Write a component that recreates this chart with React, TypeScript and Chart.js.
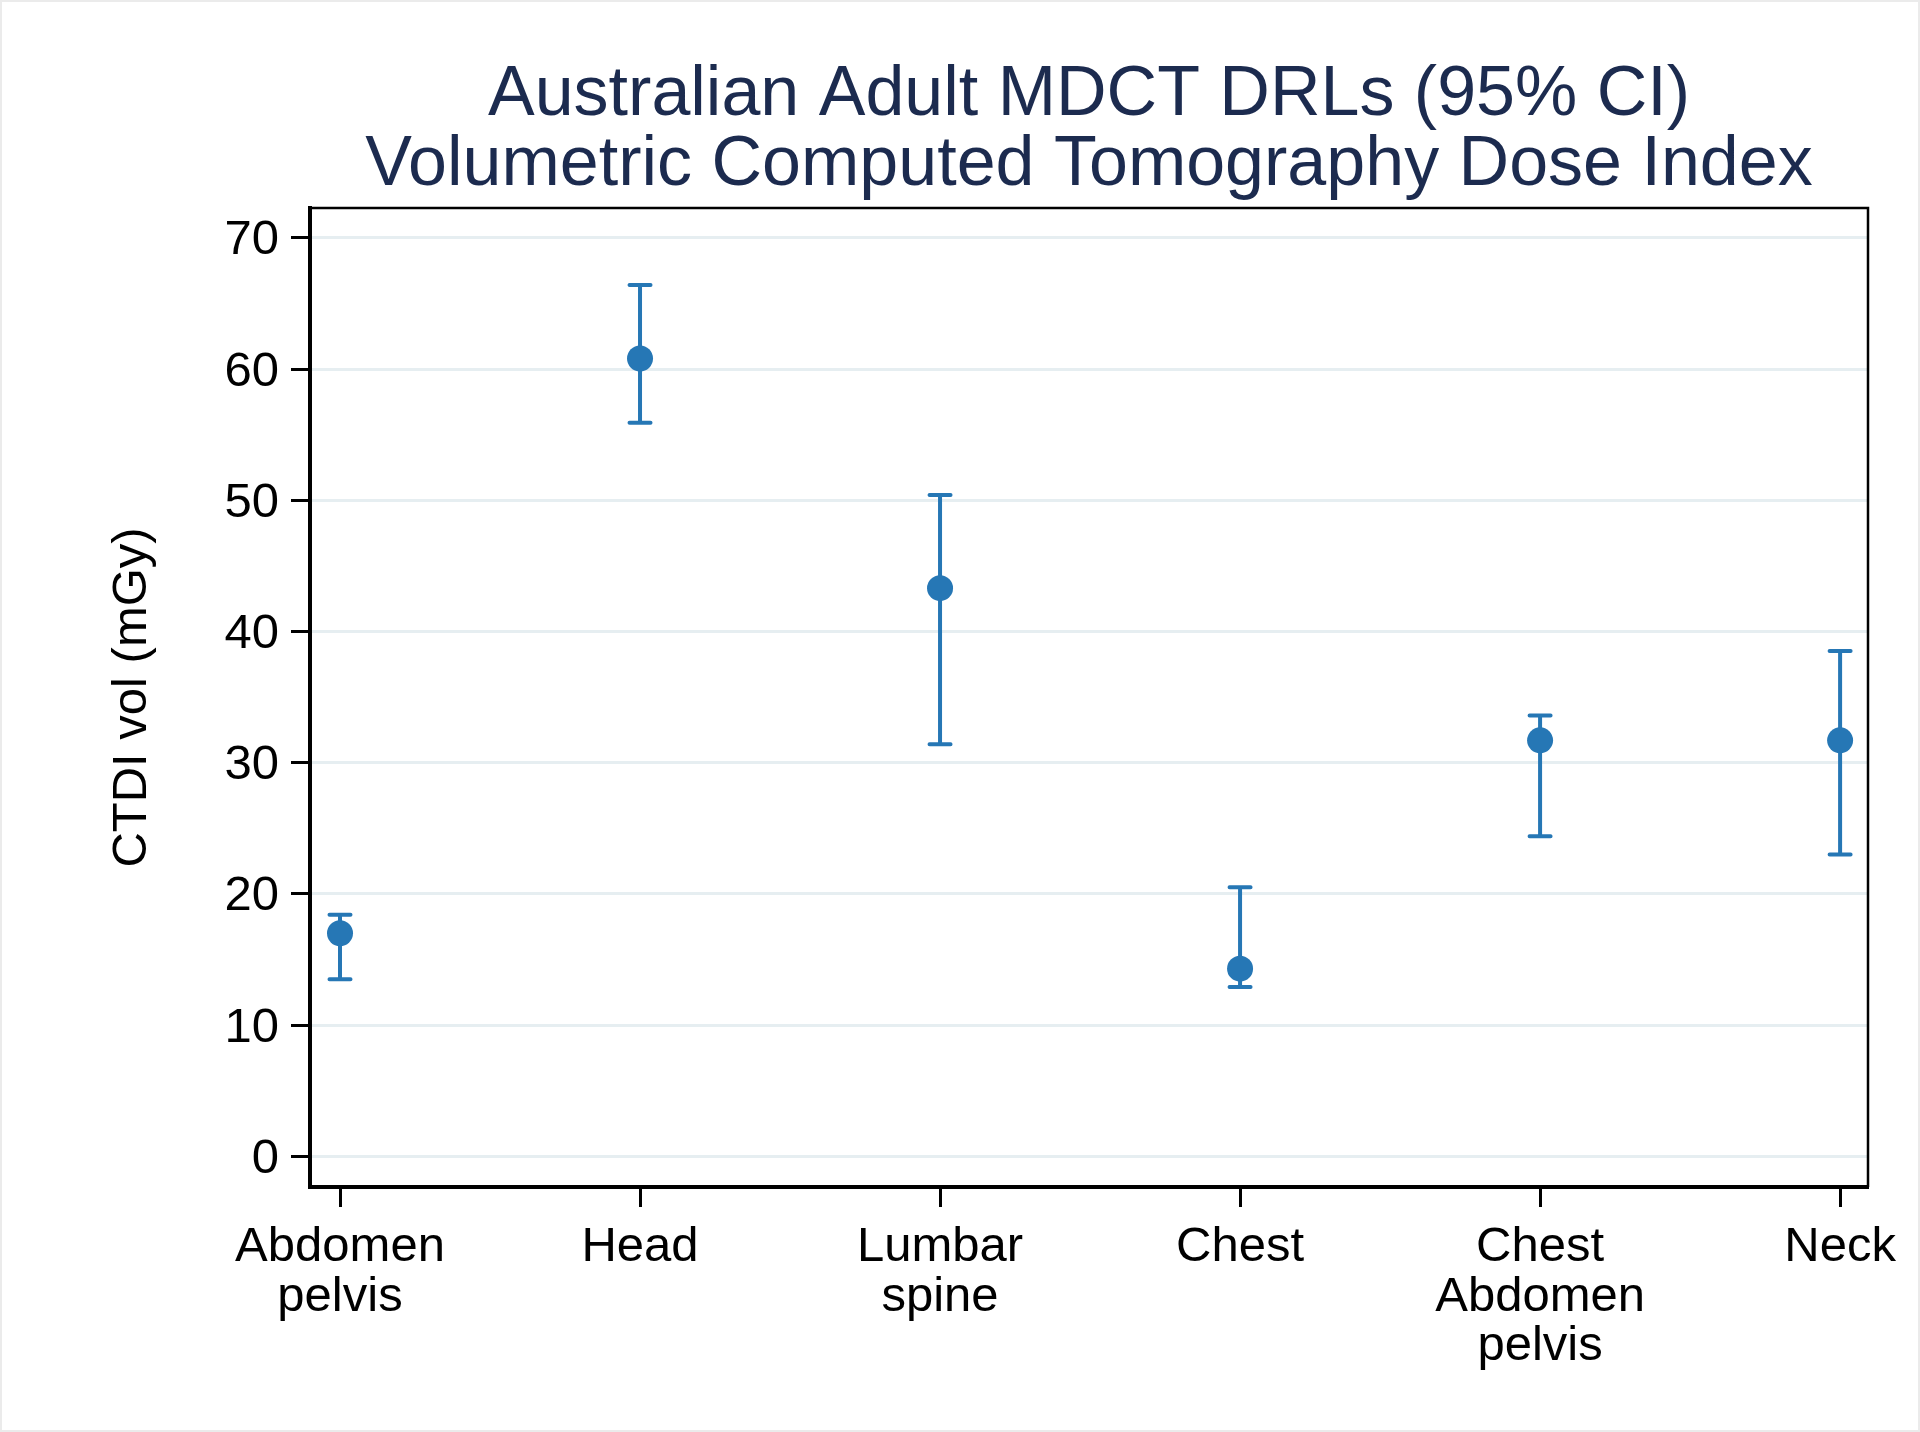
import React, { useEffect, useRef } from "react";
import { Chart, registerables } from "chart.js";

Chart.register(...registerables);

const categories = ["Abdomen pelvis", "Head", "Lumbar spine", "Chest", "Chest Abdomen pelvis", "Neck"];
const categoryLabels = [["Abdomen", "pelvis"], ["Head"], ["Lumbar", "spine"], ["Chest"], ["Chest", "Abdomen", "pelvis"], ["Neck"]];
const meanValues = [17.0, 60.8, 43.3, 14.3, 31.7, 31.7];
const lowerCI = [13.5, 55.9, 31.4, 12.9, 24.4, 23.0];
const upperCI = [18.4, 66.4, 50.4, 20.5, 33.6, 38.5];
const yTickValues = [0, 10, 20, 30, 40, 50, 60, 70];

const titleLines = ["Australian Adult MDCT DRLs (95% CI)", "Volumetric Computed Tomography Dose Index"];
const yAxisTitle = "CTDI vol (mGy)";

const MARK = "#2677b5";
const FONT = "'Liberation Sans', Arial, sans-serif";

const errorBarPlugin = {
  id: "errorBars",
  beforeDatasetsDraw(chart: any) {
    const { ctx } = chart;
    const x = chart.scales.x;
    const y = chart.scales.y;
    ctx.save();
    ctx.strokeStyle = MARK;
    ctx.lineWidth = 4;
    ctx.lineCap = "round";
    lowerCI.forEach((lo, i) => {
      const px = x.getPixelForValue(i);
      const pl = y.getPixelForValue(lo);
      const pu = y.getPixelForValue(upperCI[i]);
      ctx.beginPath();
      ctx.moveTo(px, pl);
      ctx.lineTo(px, pu);
      ctx.moveTo(px - 10.5, pl);
      ctx.lineTo(px + 10.5, pl);
      ctx.moveTo(px - 10.5, pu);
      ctx.lineTo(px + 10.5, pu);
      ctx.stroke();
    });
    ctx.restore();
  },
};

const framePlugin = {
  id: "frame",
  beforeDraw(chart: any) {
    const { ctx, width, height } = chart;
    ctx.save();
    ctx.fillStyle = "#ffffff";
    ctx.fillRect(0, 0, width, height);
    ctx.restore();
  },
  afterDraw(chart: any) {
    const { ctx, chartArea, width, height } = chart;
    ctx.save();
    ctx.strokeStyle = "#000000";
    ctx.lineWidth = 2.5;
    ctx.beginPath();
    ctx.moveTo(chartArea.left, chartArea.top);
    ctx.lineTo(chartArea.right, chartArea.top);
    ctx.lineTo(chartArea.right, chartArea.bottom);
    ctx.stroke();
    ctx.strokeStyle = "#ebebeb";
    ctx.lineWidth = 2;
    ctx.strokeRect(1, 1, width - 2, height - 2);
    ctx.restore();
  },
};

export default function App() {
  const canvasRef = useRef<HTMLCanvasElement | null>(null);

  useEffect(() => {
    const canvas = canvasRef.current;
    if (!canvas) return;
    const chart = new Chart(canvas, {
      type: "scatter",
      data: {
        datasets: [
          {
            label: "CTDI vol",
            data: meanValues.map((m, i) => ({ x: i, y: m })),
            pointRadius: 13,
            pointHoverRadius: 13,
            pointBackgroundColor: MARK,
            pointBorderWidth: 0,
            showLine: false,
          },
        ],
      },
      options: {
        animation: false,
        responsive: false,
        devicePixelRatio: 1,
        layout: { padding: { left: 0, right: 52, top: 0, bottom: 0 } },
        plugins: {
          legend: { display: false },
          tooltip: { enabled: false },
          title: {
            display: true,
            text: titleLines,
            color: "#1c2b4f",
            fullSize: false,
            font: { family: FONT, size: 70, weight: "normal", lineHeight: "70px" },
            padding: { top: 61, bottom: 7 },
          },
        },
        scales: {
          x: {
            type: "linear",
            min: -0.1,
            max: 5.093,
            afterBuildTicks: (scale: any) => {
              scale.ticks = categories.map((_, i) => ({ value: i }));
            },
            afterFit: (scale: any) => {
              scale.height = 245;
            },
            grid: {
              display: true,
              drawOnChartArea: false,
              drawTicks: true,
              tickLength: 20,
              tickColor: "#000000",
              tickWidth: 3,
              color: "#000000",
            },
            border: { display: true, color: "#000000", width: 4 },
            ticks: {
              autoSkip: false,
              maxRotation: 0,
              minRotation: 0,
              padding: 16,
              color: "#000000",
              font: { family: FONT, size: 49, lineHeight: 1.01 },
              callback: (v: any) => categoryLabels[Math.round(Number(v))] ?? "",
            },
          },
          y: {
            type: "linear",
            min: -2.34,
            max: 72.27,
            afterBuildTicks: (scale: any) => {
              scale.ticks = yTickValues.map((v) => ({ value: v }));
            },
            afterFit: (scale: any) => {
              scale.width = 310;
            },
            grid: {
              display: true,
              color: "#e6eef1",
              lineWidth: 3,
              drawTicks: true,
              tickLength: 19,
              tickColor: "#000000",
              tickWidth: 3,
            },
            border: { display: true, color: "#000000", width: 4 },
            ticks: {
              padding: 12,
              labelOffset: 3,
              color: "#000000",
              font: { family: FONT, size: 49 },
            },
            title: {
              display: true,
              text: yAxisTitle,
              color: "#000000",
              font: { family: FONT, size: 49, lineHeight: 1.2 },
              padding: { top: 103, bottom: 0 },
            },
          },
        },
      },
      plugins: [framePlugin, errorBarPlugin],
    });
    return () => chart.destroy();
  }, []);

  return (
    <div style={{ position: "absolute", left: 0, top: 0, width: 1920, height: 1432 }}>
      <canvas ref={canvasRef} width={1920} height={1432} style={{ display: "block", width: 1920, height: 1432 }} />
    </div>
  );
}
